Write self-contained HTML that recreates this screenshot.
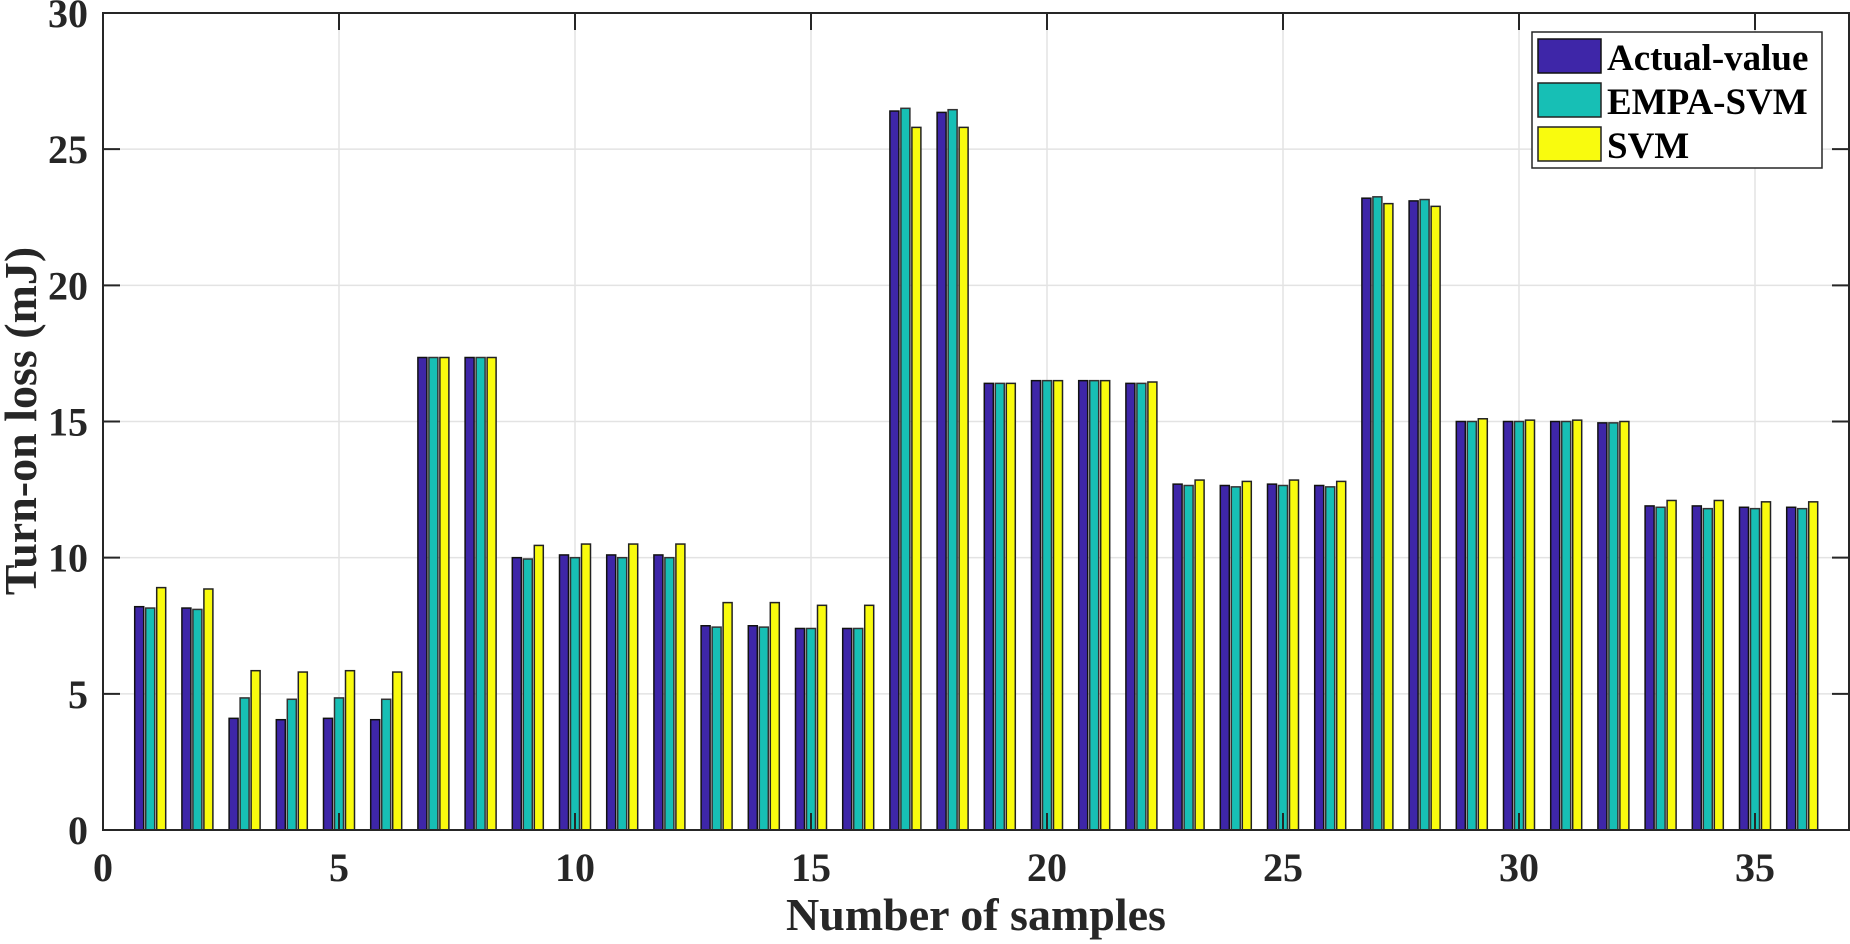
<!DOCTYPE html>
<html><head><meta charset="utf-8"><style>
html,body{margin:0;padding:0;background:#fff}
svg{display:block}
text{font-family:"Liberation Serif","Times New Roman",Times,serif;font-weight:bold;fill:#262626}
</style></head><body>
<svg id="s" width="1850" height="944" xmlns="http://www.w3.org/2000/svg" font-family="Liberation Serif, serif">
<g id="grid"></g>
<g id="bars"></g>
<g id="axes"></g>
<rect x="1532" y="32" width="290" height="136" fill="#fff" stroke="#262626" stroke-width="1.5"/>
<rect x="1538" y="39" width="63" height="34" fill="#3e26a8" stroke="#111" stroke-width="1.5"/>
<rect x="1538" y="83" width="63" height="34" fill="#17bfb5" stroke="#222" stroke-width="1.5"/>
<rect x="1538" y="127" width="63" height="34" fill="#f9fb0e" stroke="#222" stroke-width="1.5"/>
<text x="1607" y="70" font-size="37" style="fill:#000">Actual-value</text>
<text x="1607" y="114" font-size="37" style="fill:#000">EMPA-SVM</text>
<text x="1607" y="158" font-size="37" style="fill:#000">SVM</text>
<text x="976" y="930" font-size="46" text-anchor="middle">Number of samples</text>
<text transform="translate(36,421) rotate(-90)" font-size="46" text-anchor="middle">Turn-on loss (mJ)</text>
</svg>
<script>
const X0=103,UX=47.2,Y0=830,UY=817/30,R=1849,T=13;
const d=[[8.2,8.15,8.9],[8.15,8.1,8.85],[4.1,4.85,5.85],[4.05,4.8,5.8],[4.1,4.85,5.85],[4.05,4.8,5.8],
[17.35,17.35,17.35],[17.35,17.35,17.35],[10.0,9.95,10.45],[10.1,10.0,10.5],[10.1,10.0,10.5],[10.1,10.0,10.5],
[7.5,7.45,8.35],[7.5,7.45,8.35],[7.4,7.4,8.25],[7.4,7.4,8.25],[26.4,26.5,25.8],[26.35,26.45,25.8],
[16.4,16.4,16.4],[16.5,16.5,16.5],[16.5,16.5,16.5],[16.4,16.4,16.45],[12.7,12.65,12.85],[12.65,12.6,12.8],
[12.7,12.65,12.85],[12.65,12.6,12.8],[23.2,23.25,23.0],[23.1,23.15,22.9],[15.0,15.0,15.1],[15.0,15.0,15.05],
[15.0,15.0,15.05],[14.95,14.95,15.0],[11.9,11.85,12.1],[11.9,11.8,12.1],[11.85,11.8,12.05],[11.85,11.8,12.05]];
const cols=["#3e26a8","#17bfb5","#f9fb0e"],strk=["#111","#333","#222"];
let g="",b="",a="";
for(let i=0;i<=7;i++){const x=X0+i*5*UX;g+=`<line x1="${x}" y1="${T}" x2="${x}" y2="${Y0}" stroke="#e3e3e3" stroke-width="1.5"/>`;
a+=`<line x1="${x}" y1="${Y0}" x2="${x}" y2="${Y0-17}" stroke="#262626" stroke-width="2"/><line x1="${x}" y1="${T}" x2="${x}" y2="${T+17}" stroke="#262626" stroke-width="2"/>`;
a+=`<text x="${x}" y="881" font-size="40" text-anchor="middle">${i*5}</text>`;}
for(let j=0;j<=6;j++){const y=Y0-j*5*UY;g+=`<line x1="${X0}" y1="${y}" x2="${R}" y2="${y}" stroke="#e3e3e3" stroke-width="1.5"/>`;
a+=`<line x1="${X0}" y1="${y}" x2="${X0+17}" y2="${y}" stroke="#262626" stroke-width="2"/><line x1="${R}" y1="${y}" x2="${R-17}" y2="${y}" stroke="#262626" stroke-width="2"/>`;
a+=`<text x="88" y="${y+14}" font-size="40" text-anchor="end">${j*5}</text>`;}
a+=`<rect x="${X0}" y="${T}" width="${R-X0}" height="${Y0-T}" fill="none" stroke="#262626" stroke-width="2"/>`;
d.forEach((v,i)=>{const c=X0+(i+1)*UX;v.forEach((val,k)=>{const x=c+(k-1)*11-4.5,h=val*UY;
b+=`<rect x="${x}" y="${Y0-h}" width="9" height="${h}" fill="${cols[k]}" stroke="${strk[k]}" stroke-width="1.5"/>`;});});
document.getElementById("grid").innerHTML=g;document.getElementById("bars").innerHTML=b;document.getElementById("axes").innerHTML=a;
</script>
</body></html>
